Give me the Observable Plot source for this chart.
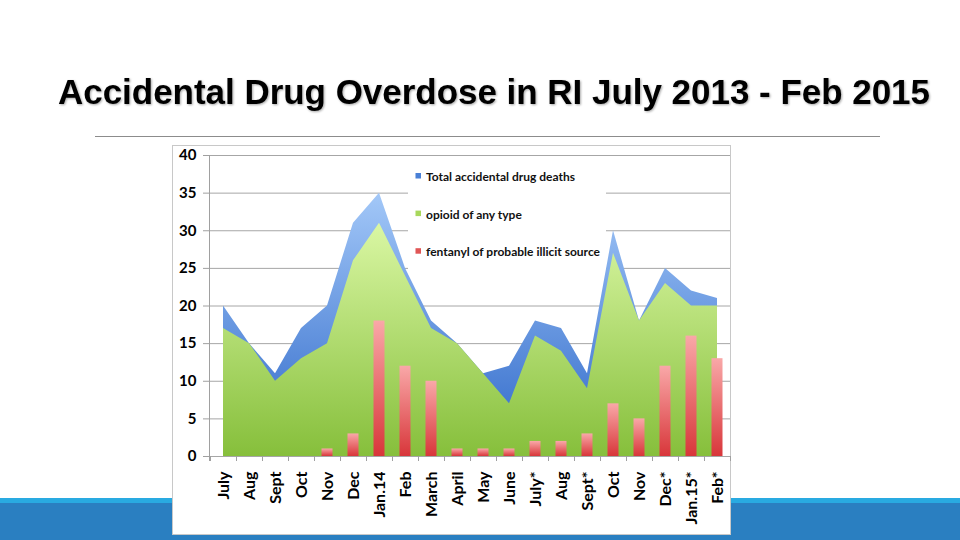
<!DOCTYPE html>
<html>
<head>
<meta charset="utf-8">
<script src="https://cdn.jsdelivr.net/npm/d3@7"></script>
<script src="https://cdn.jsdelivr.net/npm/@observablehq/plot@0.6"></script>
<style>
  html, body { margin: 0; padding: 0; background: #fff; }
  #page { position: relative; width: 960px; height: 540px; overflow: hidden; background: #fff; font-family: Lato, "Open Sans", sans-serif; }
  #title { position: absolute; left: 0; top: 0; }
  #sep { position: absolute; left: 95px; top: 136px; width: 785px; height: 0; border-top: 1px solid #8c8c8c; }
  #bandLight { position: absolute; left: 0; top: 498px; width: 960px; height: 6px; background: #29aae1; }
  #bandDark { position: absolute; left: 0; top: 503px; width: 960px; height: 37px; background: #2a7fc1; }
  #panel { position: absolute; left: 172px; top: 145px; width: 559px; height: 390px; box-sizing: border-box; background: #fff; border: 1px solid #c8c8c8; }
  #chart { position: absolute; left: 172px; top: 145px; width: 559px; height: 390px; }
</style>
</head>
<body>
<svg width="0" height="0" style="position:absolute">
  <defs>
    <linearGradient id="gBlue" x1="0" y1="0" x2="0" y2="1">
      <stop offset="0" stop-color="#a3c8f8"/>
      <stop offset="1" stop-color="#2c66c8"/>
    </linearGradient>
    <linearGradient id="gGreen" x1="0" y1="0" x2="0" y2="1">
      <stop offset="0" stop-color="#daf7a4"/>
      <stop offset="1" stop-color="#86bf3b"/>
    </linearGradient>
    <linearGradient id="gRed" x1="0" y1="0" x2="0" y2="1">
      <stop offset="0" stop-color="#f9a8a8"/>
      <stop offset="1" stop-color="#d8363a"/>
    </linearGradient>
  </defs>
</svg>
<div id="page">
  <svg id="title" width="960" height="130">
    <text x="58" y="104" font-family="'Liberation Sans', Arial, sans-serif" font-weight="bold" font-size="35" fill="#000"
      textLength="872" lengthAdjust="spacingAndGlyphs"
      style="filter: drop-shadow(1.5px 1.5px 1px rgba(0,0,0,0.35));">Accidental Drug Overdose in RI July 2013 - Feb 2015</text>
  </svg>
  <div id="sep"></div>
  <div id="bandLight"></div>
  <div id="bandDark"></div>
  <div id="panel"></div>
  <div id="chart"></div>
</div>
<script>
// ---- data ----
const months = ["July","Aug","Sept","Oct","Nov","Dec","Jan.14","Feb","March","April","May","June","July*","Aug","Sept*","Oct","Nov","Dec*","Jan.15*","Feb*"];
const totalDeaths    = [20,15,11,17,20,31,35,25,18,15,11,12,18,17,11,30,18,25,22,21];
const opioidDeaths   = [17,15,10,13,15,26,31,24,17,15,11, 7,16,14, 9,27,18,23,20,20];
const fentanylDeaths = [ 0, 0, 0, 0, 1, 3,18,12,10, 1, 1, 1, 2, 2, 3, 7, 5,12,16,13];
const yTicks = [0,5,10,15,20,25,30,35,40];
const seriesNames = ["Total accidental drug deaths","opioid of any type","fentanyl of probable illicit source"];
const seriesColors = ["#4a80d6","#a8d85c","#e05656"];

const idx = d3.range(months.length);
const SVGNS = "http://www.w3.org/2000/svg";

// white legend backdrop: drawn over the gridlines, under the areas
function legendBackdrop() {
  const r = document.createElementNS(SVGNS, "rect");
  r.setAttribute("x", 236); r.setAttribute("y", 12);
  r.setAttribute("width", 198); r.setAttribute("height", 134);
  r.setAttribute("fill", "#ffffff");
  return r;
}

const chart = Plot.plot({
  width: 559,
  height: 390,
  marginLeft: 37,
  marginTop: 10,
  marginRight: 1,
  marginBottom: 79,
  style: {background: "transparent", fontFamily: "Lato, 'Open Sans', sans-serif", fontWeight: "bold", color: "#000"},
  x: {type: "band", domain: idx, padding: 0, axis: null},
  y: {domain: [0, 40], axis: null},
  marks: [
    Plot.gridY(yTicks, {stroke: "#a6a6a6", strokeOpacity: 1, strokeWidth: 1}),
    legendBackdrop,
    Plot.areaY(idx, {x: i => i, y1: 0, y2: i => totalDeaths[i], fill: "url(#gBlue)"}),
    Plot.areaY(idx, {x: i => i, y1: 0, y2: i => opioidDeaths[i], fill: "url(#gGreen)"}),
    Plot.barY(idx, {x: i => i, y1: 0, y2: i => fentanylDeaths[i], fill: "url(#gRed)", insetLeft: 7.5, insetRight: 7.5}),
    Plot.axisY(yTicks, {tickSize: 6, tickPadding: 7, stroke: "#a0a0a0", fill: "#000", fontSize: 15, fontWeight: "bold", label: null}),
    Plot.axisX(idx, {tickFormat: i => months[i], tickRotate: -90, tickSize: 0, tickPadding: 15, fill: "#000", fontSize: 16, fontWeight: "bold", label: null})
  ]
});

document.getElementById("chart").appendChild(chart);

const svg = d3.select(chart);
const xs = chart.scale("x");
const ys = chart.scale("y");
const x0 = xs.range[0], x1 = xs.range[1];
const yTop = ys.apply(40), yBase = ys.apply(0);

// axis line and boundary ticks
const g = svg.append("g").attr("stroke", "#a0a0a0").attr("stroke-width", 1);
g.append("line").attr("x1", x0 + 0.5).attr("x2", x0 + 0.5).attr("y1", yTop).attr("y2", yBase + 5);
idx.concat([months.length]).forEach(i => {
  const x = i < months.length ? xs.apply(i) : x1;
  g.append("line").attr("x1", x + 0.5).attr("x2", x + 0.5).attr("y1", yBase).attr("y2", yBase + 5);
});

// legend
const lg = svg.append("g")
  .attr("font-family", "Lato, 'Open Sans', sans-serif")
  .attr("font-weight", "bold")
  .attr("font-size", 12)
  .attr("text-anchor", "start");
seriesNames.forEach((name, k) => {
  const by = 36 + k * 37.6;
  lg.append("rect").attr("x", 243.5).attr("y", by - 8).attr("width", 5.5).attr("height", 5.5).attr("fill", seriesColors[k]);
  lg.append("text").attr("x", 254).attr("y", by).attr("fill", "#111").attr("text-anchor", "start").text(name);
});
</script>
</body>
</html>
